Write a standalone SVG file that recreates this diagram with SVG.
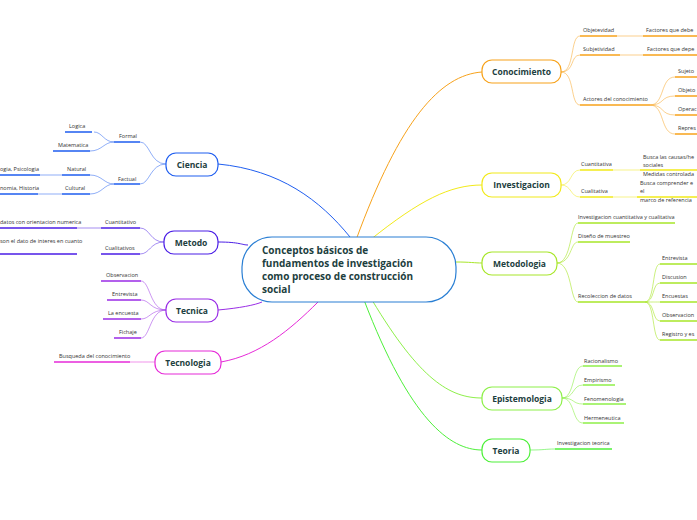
<svg xmlns="http://www.w3.org/2000/svg" width="697" height="520" viewBox="0 0 697 520">
<style>
.n{fill:#fff;stroke-width:1.2}
.t{font-family:"Open Sans","Liberation Sans",sans-serif;font-weight:bold;font-size:8.5px;fill:#1d4040;text-anchor:middle}
.l{font-family:"Open Sans","Liberation Sans",sans-serif;font-size:5.5px;fill:#333}
.c{fill:none;stroke-width:1}
.u{fill:none;stroke-width:1.6}
</style>
<rect width="697" height="520" fill="#fff"/>
<g id="connectors">
<path class="c" stroke="#f7a21b" d="M356 240 C400 120 440 75 482 72"/>
<path class="c" stroke="#f2ea1a" d="M370 240 C420 200 450 185 482 185"/>
<path class="c" stroke="#a8e62a" d="M456 262 C470 262 475 263 482 263"/>
<path class="c" stroke="#8ef04a" d="M372 300 C420 380 450 398 482 398"/>
<path class="c" stroke="#4ef03a" d="M364 300 C410 420 450 450 482 450"/>
<path class="c" stroke="#1f5ef0" d="M218 164 C280 170 320 200 350 237"/>
<path class="c" stroke="#4b1ee6" d="M218 242 C240 242 242 245 248 245"/>
<path class="c" stroke="#9a2de6" d="M218 310 C240 308 255 305 262 302"/>
<path class="c" stroke="#e62ad8" d="M221 362 C260 355 290 330 318 302"/>
<!-- Conocimiento -->
<g stroke="#f7a21b">
<path class="c" stroke-opacity=".5" d="M561 72 C575 72 570 36 580 36 M561 72 C575 72 570 55 580 55 M561 72 C575 72 570 105 580 105"/>
<path class="u" d="M580 36 H617 M580 55 H620 M580 105 H650 M643 36 H697 M643 55 H697 M675 77 H697 M675 96 H697 M675 115 H697 M675 134 H697"/>
<path class="c" stroke-opacity=".5" d="M617 36 H643 M620 55 H643 M650 105 C665 105 660 77 675 77 M650 105 C665 105 660 96 675 96 M650 105 C665 105 660 115 675 115 M650 105 C665 105 660 134 675 134"/>
</g>
<!-- Investigacion -->
<g stroke="#f2ea1a">
<path class="c" stroke-opacity=".5" d="M561 185 C572 185 570 170 580 170 M561 185 C572 185 570 197 580 197 M613 170 H640 M613 197 H640"/>
<path class="u" d="M580 170 H613 M580 197 H613 M640 170 H697 M637 197 H697"/>
</g>
<!-- Metodologia -->
<g stroke="#a8e62a">
<path class="c" stroke-opacity=".6" d="M557 263 C572 263 570 223 578 223 M557 263 C572 263 570 242 578 242 M557 263 C572 263 570 302 578 302 M645 302 C655 302 652 264 660 264 M645 302 C655 302 652 283 660 283 M645 302 C655 302 652 302 660 302 M645 302 C655 302 652 321 660 321 M645 302 C655 302 652 340 660 340"/>
<path class="u" d="M578 223 H675 M578 242 H630 M578 302 H645 M660 264 H697 M660 283 H697 M660 302 H697 M660 321 H697 M660 340 H697"/>
</g>
<!-- Epistemologia -->
<g stroke="#8ef04a">
<path class="c" stroke-opacity=".6" d="M562 398 C575 398 572 366 583 366 M562 398 C575 398 572 385 583 385 M562 398 C575 398 572 404 583 404 M562 398 C575 398 572 423 583 423"/>
<path class="u" d="M583 366 H622 M583 385 H615 M583 404 H626 M583 423 H624"/>
</g>
<g stroke="#4ef03a"><path class="c" stroke-opacity=".6" d="M530 450 C545 450 545 449 555 449"/><path class="u" d="M555 449 H612"/></g>
<!-- Ciencia -->
<g stroke="#1f5ef0">
<path class="c" stroke-opacity=".5" d="M166 164 C150 164 150 142 140 142 M166 164 C150 164 150 184 140 184 M114 142 C104 142 102 132 94 132 M114 142 C104 142 102 151 90 151 M114 184 C104 184 102 175 90 175 M114 184 C104 184 102 194 90 194 M62 175 H40 M62 194 H38"/>
<path class="u" d="M114 142 H140 M114 184 H140 M65 132 H92 M53 151 H90 M62 175 H90 M62 194 H90 M0 175 H40 M0 194 H38"/>
</g>
<!-- Metodo -->
<g stroke="#4b1ee6">
<path class="c" stroke-opacity=".5" d="M164 242 C150 242 150 228 140 228 M164 242 C150 242 150 254 140 254 M101 228 H77"/>
<path class="u" d="M101 228 H140 M101 254 H140 M0 228 H77 M0 254 H77"/>
</g>
<!-- Tecnica -->
<g stroke="#9a2de6">
<path class="c" stroke-opacity=".5" d="M166 310 C150 310 150 281 141 281 M166 310 C150 310 150 300 141 300 M166 310 C150 310 150 319 141 319 M166 310 C150 310 150 338 141 338"/>
<path class="u" d="M101 281 H141 M107 300 H141 M103 319 H141 M114 338 H141"/>
</g>
<g stroke="#e62ad8"><path class="c" stroke-opacity=".5" d="M155 362 C145 362 140 362 130 362"/><path class="u" d="M54 362 H130"/></g>
</g>
<g id="center"><rect class="n" stroke="#2a7fd4" x="242" y="237" width="214" height="65" rx="30"/>
<text class="t" style="text-anchor:start;font-size:10px" x="262" y="254">Conceptos básicos de<tspan x="262" dy="13">fundamentos de investigación</tspan><tspan x="262" dy="13">como proceso de construcción</tspan><tspan x="262" dy="13">social</tspan></text></g>
<g id="conocimiento"><rect class="n" stroke="#f7a21b" x="482" y="60" width="79" height="23" rx="10"/><text class="t" x="521.5" y="75">Conocimiento</text></g>
<g id="investigacion"><rect class="n" stroke="#f2ea1a" x="482" y="173" width="79" height="24" rx="10"/><text class="t" x="521.5" y="188">Investigacion</text></g>
<g id="metodologia"><rect class="n" stroke="#a8e62a" x="482" y="252" width="75" height="23" rx="10"/><text class="t" x="519.5" y="267">Metodologia</text></g>
<g id="epistemologia"><rect class="n" stroke="#8ef04a" x="482" y="387" width="80" height="23" rx="10"/><text class="t" x="522" y="402">Epistemologia</text></g>
<g id="teoria"><rect class="n" stroke="#4ef03a" x="482" y="439" width="48" height="23" rx="10"/><text class="t" x="506" y="454">Teoria</text></g>
<g id="ciencia"><rect class="n" stroke="#1f5ef0" x="166" y="153" width="52" height="23" rx="10"/><text class="t" x="192" y="168">Ciencia</text></g>
<g id="metodo"><rect class="n" stroke="#4b1ee6" x="164" y="231" width="54" height="23" rx="10"/><text class="t" x="191" y="246">Metodo</text></g>
<g id="tecnica"><rect class="n" stroke="#9a2de6" x="166" y="299" width="52" height="23" rx="10"/><text class="t" x="192" y="314">Tecnica</text></g>
<g id="tecnologia"><rect class="n" stroke="#e62ad8" x="155" y="351" width="66" height="23" rx="10"/><text class="t" x="188" y="366">Tecnologia</text></g>
<g id="leaves">
<text class="l" x="583" y="32">Objetevidad</text><text class="l" x="646" y="32">Factores que debe</text>
<text class="l" x="583" y="51">Subjetividad</text><text class="l" x="647" y="51">Factores que depe</text>
<text class="l" x="583" y="101">Actores del conocimiento</text>
<text class="l" x="678" y="73">Sujeto</text><text class="l" x="678" y="92">Objeto</text><text class="l" x="678" y="111">Operac</text><text class="l" x="678" y="130">Repres</text>
<text class="l" x="581" y="166">Cuantitativa</text><text class="l" x="581" y="193">Cualitativa</text>
<text class="l" x="643" y="159">Busca las causas/he</text><text class="l" x="643" y="167">sociales</text><text class="l" x="643" y="176">Medidas controlada</text>
<text class="l" x="640" y="185">Busca comprender e</text><text class="l" x="640" y="193">el</text><text class="l" x="640" y="202">marco de referencia</text>
<text class="l" x="578" y="219">Investigacion cuantitativa y cualitativa</text><text class="l" x="578" y="238">Diseño de muestreo</text><text class="l" x="578" y="298">Recoleccion de datos</text>
<text class="l" x="662" y="260">Entrevista</text><text class="l" x="662" y="279">Discusion</text><text class="l" x="662" y="298">Encuestas</text><text class="l" x="662" y="317">Observacion</text><text class="l" x="662" y="336">Registro y es</text>
<text class="l" x="584" y="363">Racionalismo</text><text class="l" x="584" y="382">Empirismo</text><text class="l" x="584" y="401">Fenomenologia</text><text class="l" x="584" y="420">Hermeneutica</text>
<text class="l" x="557" y="445">Investigacion teorica</text>
<text class="l" x="69" y="128">Logica</text><text class="l" x="58" y="147">Matematica</text><text class="l" x="119" y="138">Formal</text><text class="l" x="118" y="181">Factual</text>
<text class="l" x="67" y="171">Natural</text><text class="l" x="65" y="190">Cultural</text><text class="l" x="0" y="171">ogia, Psicologia</text><text class="l" x="0" y="190">nomia, Historia</text>
<text class="l" x="0" y="224">datos con orientacion numerica</text><text class="l" x="0" y="243">son el dato de interes en cuanto</text>
<text class="l" x="105" y="224">Cuantitativo</text><text class="l" x="105" y="250">Cualitativos</text>
<text class="l" x="106" y="277">Observacion</text><text class="l" x="112" y="296">Entrevista</text><text class="l" x="108" y="315">La encuesta</text><text class="l" x="119" y="334">Fichaje</text>
<text class="l" x="59" y="358">Busqueda del conocimiento</text>
</g>
</svg>
